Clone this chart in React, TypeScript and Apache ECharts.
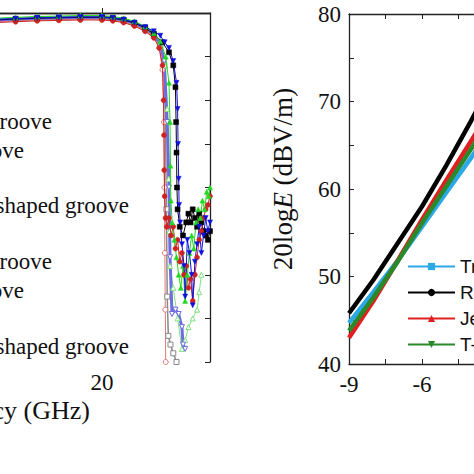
import React, { useEffect, useRef } from "react";
import * as echarts from "echarts";

const serif = '"Liberation Serif", "Times New Roman", serif';
const sans = '"Liberation Sans", Arial, sans-serif';

// ---------- Left panel: transmission vs frequency (GHz, dB) ----------
const blackFilled: number[][] = [
  [15, -1.6], [16, -1.4], [17, -1.2], [18, -1.1], [19, -1.0], [20, -1.0], [20.5, -1.2], [21, -1.6],
  [21.5, -2.3], [22, -3.4], [22.4, -4.8], [22.8, -6.7], [23.1, -9], [23.3, -12], [23.4, -17],
  [23.43, -25], [23.45, -32], [23.47, -40], [23.5, -45], [23.6, -49], [23.75, -51], [23.9, -48],
  [24.0, -46], [24.1, -48], [24.2, -45], [24.3, -47], [24.4, -49], [24.5, -46], [24.6, -48],
  [24.7, -50], [24.8, -51], [24.9, -52], [25.0, -50],
];
const redFilled: number[][] = [
  [15, -2.2], [16, -2.0], [17, -1.8], [18, -1.7], [19, -1.6], [20, -1.6], [20.5, -1.8], [21, -2.2],
  [21.5, -3.0], [22, -4.2], [22.4, -5.7], [22.65, -8], [22.8, -12], [22.85, -20], [22.87, -28],
  [22.88, -36], [22.9, -42], [22.94, -47], [23.0, -49], [23.1, -47], [23.2, -51], [23.3, -49],
  [23.4, -54], [23.5, -52], [23.6, -57], [23.7, -55], [23.8, -60], [23.9, -58], [24.0, -63],
  [24.1, -61], [24.2, -66], [24.3, -60], [24.4, -56], [24.5, -52], [24.6, -50], [24.7, -47],
  [24.8, -45], [24.9, -44], [25.0, -42],
];
const greenFilled: number[][] = [
  [15, -1.2], [16, -1.0], [17, -0.8], [18, -0.7], [19, -0.6], [20, -0.6], [20.5, -0.8], [21, -1.2],
  [21.5, -1.9], [22, -3.1], [22.4, -4.6], [22.7, -6.5], [22.95, -10], [23.1, -16], [23.15, -25],
  [23.17, -35], [23.19, -43], [23.25, -48], [23.35, -52], [23.45, -56], [23.55, -60], [23.65, -63],
  [23.75, -58], [23.85, -66], [23.95, -60], [24.05, -55], [24.15, -51], [24.25, -54], [24.35, -48],
  [24.45, -45], [24.55, -47], [24.65, -43], [24.75, -45], [24.85, -41], [24.95, -42], [25.0, -40],
];
const blueFilled: number[][] = [
  [15, -1.5], [16, -1.3], [17, -1.1], [18, -1.0], [19, -0.9], [20, -0.9], [20.5, -1.1], [21, -1.5],
  [21.5, -2.2], [22, -3.2], [22.4, -4.2], [22.7, -5.2], [22.9, -6.7], [23.1, -8], [23.3, -11],
  [23.45, -16], [23.5, -22], [23.52, -30], [23.55, -38], [23.57, -44], [23.62, -48], [23.7, -53],
  [23.8, -58], [23.85, -65], [23.95, -52], [24.05, -55], [24.15, -60], [24.2, -67], [24.3, -57],
  [24.4, -53], [24.5, -49], [24.6, -55], [24.7, -51], [24.8, -47], [24.9, -50], [25.0, -48],
];
const pinkHollow: number[][] = [
  [15, -2.0], [17, -1.6], [19, -1.4], [20, -1.4], [21, -2.0], [21.5, -2.8], [22, -4.0], [22.4, -5.5],
  [22.65, -8], [22.8, -13], [22.87, -25], [22.89, -40], [22.91, -55], [22.93, -68], [22.95, -80],
];
const greyHollow: number[][] = [
  [15, -1.8], [17, -1.4], [19, -1.2], [20, -1.2], [21, -1.8], [21.5, -2.6], [22, -3.8], [22.4, -5.2],
  [22.7, -7.5], [22.88, -12], [22.94, -25], [22.98, -45], [23.02, -65], [23.07, -74], [23.17, -76],
  [23.3, -78], [23.45, -80],
];
const blueHollow: number[][] = [
  [15, -1.6], [16, -1.4], [17, -1.2], [18, -1.1], [19, -1.0], [20, -1.0], [20.5, -1.2], [21, -1.6],
  [21.5, -2.3], [22, -3.4], [22.4, -4.8], [22.7, -7], [22.88, -11], [23.02, -25], [23.1, -40],
  [23.15, -56], [23.24, -69], [23.4, -68], [23.55, -69], [23.7, -72], [23.75, -76], [23.85, -77],
];
const greenHollow: number[][] = [
  [15, -1.3], [17, -0.9], [19, -0.7], [20, -0.7], [21, -1.3], [21.5, -2.0], [22, -3.2], [22.4, -4.8],
  [22.7, -7], [22.92, -12], [23.02, -22], [23.09, -38], [23.12, -50], [23.15, -58], [23.3, -63],
  [23.5, -70], [23.7, -77], [23.85, -75], [24.0, -72], [24.2, -70], [24.4, -68], [24.5, -64],
  [24.6, -60],
];

const leftLegendGroupA = ["Trapezoidal groove", "Rectangular groove", "T-shaped groove"];
const leftLegendGroupB = ["Trapezoidal groove", "Rectangular groove", "T-shaped groove"];

// ---------- Right panel: 20logE vs position ----------
const rightX = [-9, -8, -7, -6, -5, -4, -3];
const rightNames = ["Trapezoid", "Rectangle", "Jerusalem", "T-shaped"];
const trapValues = [44.7, 48.2, 51.8, 55.7, 59.6, 63.5, 67.6];
const rectValues = [45.8, 49.6, 53.8, 58.0, 62.7, 67.7, 73.0];
const jeruValues = [43.0, 47.2, 51.8, 56.5, 61.0, 65.4, 69.9];
const tshapeValues = [43.8, 47.6, 51.7, 56.1, 60.3, 64.5, 68.8];

function leftSeries(name: string, data: number[][], color: string, symbol: string, hollow: boolean, rotate = 0, lw = 1) {
  return {
    name,
    type: "line",
    xAxisIndex: 0,
    yAxisIndex: 0,
    data,
    symbol,
    symbolRotate: rotate,
    symbolSize: 5,
    showAllSymbol: true,
    lineStyle: { color, width: lw },
    itemStyle: hollow
      ? { color: "#ffffff", borderColor: color, borderWidth: 1 }
      : { color, borderColor: color, borderWidth: 0.5 },
    z: hollow ? 2 : 3,
  };
}

function rightSeries(name: string, values: number[], color: string, symbol: string, rotate = 0) {
  return {
    name,
    type: "line",
    xAxisIndex: 2,
    yAxisIndex: 1,
    data: rightX.map((x, i) => [x, values[i]]),
    symbol,
    symbolRotate: rotate,
    showSymbol: false,
    lineStyle: { color, width: 4.5 },
    itemStyle: { color },
  };
}

export default function App() {
  const ref = useRef<HTMLDivElement>(null);
  useEffect(() => {
    if (!ref.current) return;
    const chart = echarts.init(ref.current, undefined, { renderer: "svg" });
    const axisLine = { show: true, lineStyle: { color: "#222", width: 1.3 } };
    const leftTexts: any[] = [];
    const ends = [52, 24, 129];
    const ysA = [121, 150, 205];
    const ysB = [261, 290, 346];
    leftLegendGroupA.forEach((t, i) =>
      leftTexts.push({
        type: "text", x: ends[i], y: ysA[i],
        style: { text: t, font: `23px ${serif}`, fill: "#111", textAlign: "right", textVerticalAlign: "middle" },
      })
    );
    leftLegendGroupB.forEach((t, i) =>
      leftTexts.push({
        type: "text", x: ends[i], y: ysB[i],
        style: { text: t, font: `23px ${serif}`, fill: "#111", textAlign: "right", textVerticalAlign: "middle" },
      })
    );
    leftTexts.push({
      type: "text", x: 90, y: 410,
      style: { text: "Frequency (GHz)", font: `26px ${serif}`, fill: "#111", textAlign: "right", textVerticalAlign: "middle" },
    });

    chart.setOption({
      animation: false,
      backgroundColor: "#ffffff",
      grid: [
        { left: -114, right: 264, top: 13, bottom: 112, containLabel: false, outerBoundsMode: "none" },
        { left: 349, right: -21, top: 14, bottom: 110, containLabel: false, outerBoundsMode: "none" },
      ],
      xAxis: [
        {
          type: "value", gridIndex: 0, position: "bottom", min: 10, max: 25, interval: 10,
          axisLine, splitLine: { show: false },
          axisTick: { inside: true, length: 5, lineStyle: { color: "#222" } },
          axisLabel: { fontFamily: serif, fontSize: 23, color: "#111", margin: 9, showMaxLabel: false },
        },
        {
          type: "value", gridIndex: 0, position: "top", min: 10, max: 25, interval: 10,
          axisLine, splitLine: { show: false },
          axisTick: { inside: true, length: 5, lineStyle: { color: "#222" } },
          axisLabel: { show: false },
        },
        {
          type: "value", gridIndex: 1, position: "bottom", min: -9, max: -3, interval: 3,
          axisLine, splitLine: { show: false },
          axisTick: { inside: true, length: 5, lineStyle: { color: "#222" } },
          minorTick: { show: true, splitNumber: 2, length: 5, lineStyle: { color: "#222" } },
          axisLabel: { fontFamily: serif, fontSize: 23, color: "#111", margin: 9, showMaxLabel: false },
        },
        {
          type: "value", gridIndex: 1, position: "top", min: -9, max: -3, interval: 3,
          axisLine, splitLine: { show: false },
          axisTick: { inside: true, length: 5, lineStyle: { color: "#222" } },
          minorTick: { show: true, splitNumber: 2, length: 5, lineStyle: { color: "#222" } },
          axisLabel: { show: false },
        },
      ],
      yAxis: [
        {
          type: "value", gridIndex: 0, position: "right", min: -80, max: 0, interval: 10,
          axisLine, splitLine: { show: false },
          axisTick: { inside: true, length: 5, lineStyle: { color: "#222" } },
          axisLabel: { show: false },
        },
        {
          type: "value", gridIndex: 1, position: "left", min: 40, max: 80, interval: 10,
          axisLine, splitLine: { show: false },
          axisTick: { inside: true, length: 5, lineStyle: { color: "#222" } },
          minorTick: { show: true, splitNumber: 2, length: 5, lineStyle: { color: "#222" } },
          axisLabel: { fontFamily: serif, fontSize: 23, color: "#111", margin: 8 },
          name: "20log{e|E} (dBV/m)",
          nameLocation: "middle",
          nameGap: 53,
          nameTextStyle: {
            fontFamily: serif, fontSize: 27, color: "#111", padding: [0, 0, 0, 20],
            rich: { e: { fontFamily: serif, fontSize: 27, fontStyle: "italic", color: "#111" } },
          },
        },
      ],
      legend: {
        data: rightNames,
        orient: "vertical",
        left: 402,
        top: 252,
        itemWidth: 47,
        itemHeight: 9,
        itemGap: 7,
        lineStyle: { width: 2 },
        textStyle: { fontFamily: sans, fontSize: 19, color: "#111" },
      },
      graphic: leftTexts,
      series: [
        leftSeries("Sim. T-shaped", greyHollow, "#8a8a8a", "rect", true, 0, 1.5),
        leftSeries("Sim. trapezoidal", pinkHollow, "#e07878", "circle", true),
        leftSeries("Sim. rectangular", greenHollow, "#7fe07f", "triangle", true),
        leftSeries("Sim. jerusalem", blueHollow, "#6c6ce0", "triangle", true, 180, 3),
        leftSeries("Meas. rectangular", blackFilled, "#000000", "rect", false),
        leftSeries("Meas. trapezoidal", redFilled, "#cc2222", "circle", false),
        leftSeries("Meas. T-shaped", greenFilled, "#22d822", "triangle", false),
        leftSeries("Meas. jerusalem", blueFilled, "#1010dd", "triangle", false, 180),
        rightSeries(rightNames[0], trapValues, "#2aa8e8", "rect"),
        rightSeries(rightNames[1], rectValues, "#000000", "circle"),
        rightSeries(rightNames[2], jeruValues, "#e02020", "triangle"),
        rightSeries(rightNames[3], tshapeValues, "#2a8a2a", "triangle", 180),
      ],
    });
    return () => chart.dispose();
  }, []);
  return (
    <div
      ref={ref}
      style={{ position: "fixed", left: 0, top: 0, width: 474, height: 474, background: "#fff" }}
    />
  );
}
